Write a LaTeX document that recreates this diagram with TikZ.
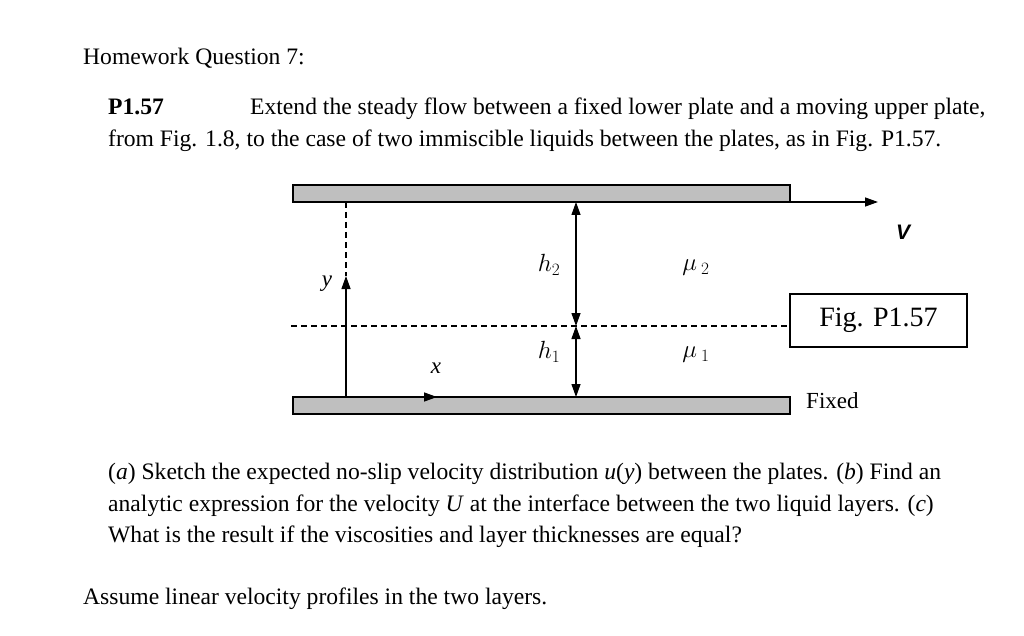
\documentclass[tikz,border=0pt]{standalone}
\usepackage{fontspec}
\setmainfont{Liberation Serif}
\newfontfamily\sansf{Liberation Sans}
\usetikzlibrary{arrows.meta}
\begin{document}
\begin{tikzpicture}[x=1pt,y=-1pt,
  txt/.style={anchor=base west,inner sep=0pt,font=\fontsize{23.6}{28}\selectfont},
  plate/.style={draw,fill=gray!50,line width=1.4pt},
  arr/.style={-{Triangle[length=13pt,width=9pt]},line width=1.3pt},
  darr/.style={{Triangle[length=13pt,width=9pt]}-{Triangle[length=13pt,width=9pt]},line width=1.3pt},
  dsh/.style={line width=1.2pt,dash pattern=on 6pt off 4pt}]
\useasboundingbox (0,0) rectangle (1024,636);
\node[txt] (t0) at (83,65) {Homework Question 7:};
\node[txt,font=\fontsize{23.6}{28}\selectfont\bfseries] (t1) at (108,115) {P1.57};
\node[txt] (t2) at (250,115) {Extend the steady flow between a fixed lower plate and a moving upper plate,};
\node[txt] (t3) at (108,147) {from Fig. 1.8, to the case of two immiscible liquids between the plates, as in Fig. P1.57.};
\node[txt] (t4) at (108,479) {(\textit{a}) Sketch the expected no-slip velocity distribution \textit{u}(\textit{y}) between the plates. (\textit{b}) Find an};
\node[txt] (t5) at (108,511) {analytic expression for the velocity \textit{U} at the interface between the two liquid layers. (\textit{c})};
\node[txt] (t6) at (108,542) {What is the result if the viscosities and layer thicknesses are equal?};
\node[txt] (t7) at (83,604) {Assume linear velocity profiles in the two layers.};
% plates
\draw[plate] (293,185) rectangle (790,202);
\draw[plate] (293,397) rectangle (790,414);
\coordinate (tr) at (790,202);
\coordinate (ve) at (878,202);
\draw[arr] (tr) -- (ve);
\node[font=\sansf\bfseries\itshape\fontsize{21}{24}\selectfont] (V) at (903,232) {V};
% axes
\coordinate (o) at (346,397);
\coordinate (yt) at (346,276);
\coordinate (yd) at (346,202);
\coordinate (xe) at (437,397);
\draw[dsh] (yd) -- (yt);
\draw[arr] (o) -- (yt);
\draw[arr] (o) -- (xe);
\node[font=\fontsize{23}{24}\selectfont] (ylab) at (327,284) {\textit{y}};
\node[font=\fontsize{23}{24}\selectfont] (xlab) at (436,368) {\textit{x}};
% interface
\coordinate (il) at (291,326);
\coordinate (ir) at (790,326);
\draw[dsh] (il) -- (ir);
\coordinate (ht) at (576,202);
\coordinate (hm) at (576,326);
\coordinate (hb) at (576,397);
\draw[darr] (ht) -- (hm);
\draw[darr] (hm) -- (hb);
\node[font=\fontsize{25}{28}\selectfont] (h2) at (549,265) {$h_2$};
\node[font=\fontsize{25}{28}\selectfont] (h1) at (549,352) {$h_1$};
\node[font=\fontsize{25}{28}\selectfont] (m2) at (696,268) {$\mu\,{}_2$};
\node[font=\fontsize{25}{28}\selectfont] (m1) at (696,355) {$\mu\,{}_1$};
\node[draw,line width=1.4pt,minimum width=177pt,minimum height=53pt,font=\fontsize{28}{32}\selectfont] (fig) at (878.5,320.5) {Fig. P1.57};
\node[anchor=west,inner sep=0pt,font=\fontsize{23}{28}\selectfont] (fx) at (806,401) {Fixed};
\end{tikzpicture}
\end{document}
